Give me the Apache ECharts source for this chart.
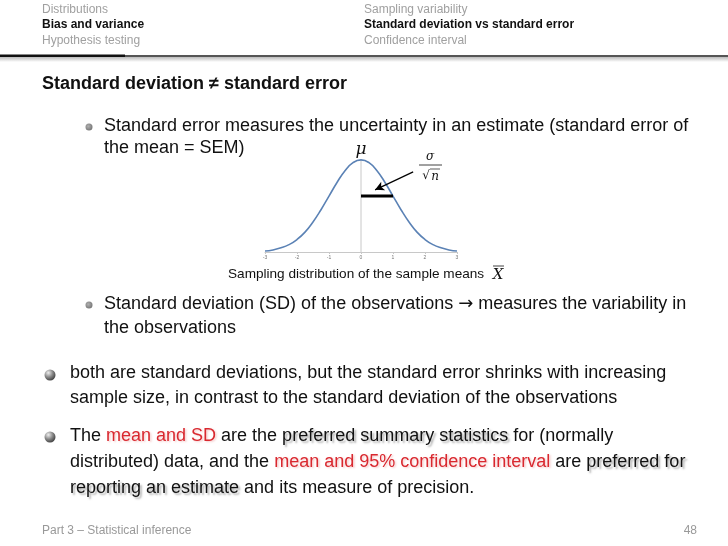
<!DOCTYPE html>
<html><head><meta charset="utf-8">
<script src="https://cdn.jsdelivr.net/npm/echarts@6/dist/echarts.min.js"></script>
<style>html,body{margin:0;padding:0;background:#fff}#c{width:728px;height:546px}</style>
</head><body><div id="c"></div>
<script>
// Values
const xValues = [-3,-2.75,-2.5,-2.25,-2,-1.75,-1.5,-1.25,-1,-0.75,-0.5,-0.25,0,0.25,0.5,0.75,1,1.25,1.5,1.75,2,2.25,2.5,2.75,3];
const density = [0.004,0.009,0.018,0.032,0.054,0.086,0.13,0.183,0.242,0.301,0.352,0.387,0.399,0.387,0.352,0.301,0.242,0.183,0.13,0.086,0.054,0.032,0.018,0.009,0.004];
const meanLine = [[0,0],[0,0.399]];
const seBar = [[0,0.242],[1,0.242]];
const arrowFrom = [1.63,0.347];
const arrowTo = [0.44,0.269];
const xTicks = [-3,-2,-1,0,1,2,3];

const FONT = '"Liberation Sans", Arial, sans-serif';
const MATH = '"DejaVu Serif", serif';
const BODY = 18;
const chart = echarts.init(document.getElementById('c'), null, {renderer:'canvas'});

function txt(x, y, text, size, color, weight, extra) {
  return Object.assign({type:'text', x:x, y:y, style:Object.assign({text:text, fontSize:size, fill:color||'#000', fontWeight:weight||'normal', fontFamily:FONT, verticalAlign:'middle'}, extra||{})});
}
function ball(cx, cy, r) {
  return {type:'circle', shape:{cx:cx, cy:cy, r:r}, style:{fill:{type:'radial', x:0.35, y:0.3, r:0.8, colorStops:[{offset:0,color:'#eeeeee'},{offset:0.5,color:'#888'},{offset:1,color:'#333'}]}}};
}
function dot(cx, cy, r) {
  return {type:'circle', shape:{cx:cx, cy:cy, r:r}, style:{fill:{type:'radial', x:0.4, y:0.4, r:0.7, colorStops:[{offset:0,color:'#b0b0b0'},{offset:1,color:'#707070'}]}}};
}
const shadow = {textShadowColor:'rgba(0,0,0,0.3)', textShadowBlur:2, textShadowOffsetX:2, textShadowOffsetY:2};
const redStyle = {fill:'#d9282f', fontSize:BODY, fontFamily:FONT, textShadowColor:'rgba(200,0,0,0.2)', textShadowBlur:2, textShadowOffsetX:1.5, textShadowOffsetY:1.5};
const darkShadow = Object.assign({fill:'#111', fontSize:BODY, fontFamily:FONT}, shadow);

const option = {
  animation:false,
  grid:{left:265, width:192, top:155, height:97},
  xAxis:{type:'value', min:-3, max:3, interval:1,
    axisLine:{lineStyle:{color:'#c8c8c8', width:1}},
    axisTick:{show:true, length:2, lineStyle:{color:'#c8c8c8'}},
    axisLabel:{fontSize:5, color:'#777', margin:3, formatter:function(v){return xTicks.indexOf(v)>=0?String(v):'';}},
    splitLine:{show:false}},
  yAxis:{type:'value', min:0, max:0.42, show:false},
  series:[
    {type:'line', data:meanLine, symbol:'none', lineStyle:{color:'#c8c8c8', width:1}, silent:true},
    {type:'line', data:xValues.map(function(x,i){return [x,density[i]];}), smooth:true, symbol:'none', lineStyle:{color:'#5b82b5', width:1.6},
      markLine:{silent:true, symbol:['none','arrow'], symbolSize:[7,9], label:{show:false},
        lineStyle:{color:'#000', width:1.2, type:'solid'},
        data:[[{coord:arrowFrom},{coord:arrowTo}]]}},
    {type:'line', data:seBar, symbol:'none', lineStyle:{color:'#000', width:3}}
  ],
  graphic:[
    // header
    txt(42,10,'Distributions',12,'#a0a0a0'),
    txt(42,25,'Bias and variance',12,'#111','bold'),
    txt(42,41,'Hypothesis testing',12,'#a0a0a0'),
    txt(364,10,'Sampling variability',12,'#a0a0a0'),
    txt(364,25,'Standard deviation vs standard error',12,'#111','bold'),
    txt(364,41,'Confidence interval',12,'#a0a0a0'),
    {type:'rect', shape:{x:0,y:57,width:728,height:5}, style:{fill:{type:'linear',x:0,y:0,x2:0,y2:1,colorStops:[{offset:0,color:'#bbb'},{offset:1,color:'#fff'}]}}},
    {type:'rect', shape:{x:0,y:55,width:728,height:2}, style:{fill:'#555'}},
    {type:'rect', shape:{x:0,y:54.5,width:125,height:2.5}, style:{fill:'#111'}},
    // title
    txt(42,84,'Standard deviation \u2260 standard error',18,'#111','bold'),
    // sub bullet 1
    dot(89,127,3.5),
    txt(104,126,'Standard error measures the uncertainty in an estimate (standard error of',BODY,'#111'),
    txt(104,148,'the mean = SEM)',BODY,'#111'),
    // math labels
    {type:'text', x:361, y:150, style:{text:'\u03bc', fontSize:17, fontStyle:'italic', fontFamily:MATH, fill:'#111', align:'center', verticalAlign:'middle'}},
    {type:'text', x:430, y:157, style:{text:'\u03c3', fontSize:12, fontStyle:'italic', fontFamily:MATH, fill:'#111', align:'center', verticalAlign:'middle'}},
    {type:'line', shape:{x1:419,y1:165,x2:442,y2:165}, style:{stroke:'#111', lineWidth:0.8}},
    {type:'text', x:426, y:176, style:{text:'\u221a', fontSize:12, fontFamily:MATH, fill:'#111', align:'center', verticalAlign:'middle'}},
    {type:'line', shape:{x1:430,y1:169,x2:440,y2:169}, style:{stroke:'#111', lineWidth:0.7}},
    {type:'text', x:435, y:177, style:{text:'n', fontSize:12, fontStyle:'italic', fontFamily:MATH, fill:'#111', align:'center', verticalAlign:'middle'}},
    // caption
    txt(228,274,'Sampling distribution of the sample means',13.6,'#111'),
    {type:'text', x:498, y:275, style:{text:'X', fontSize:15, fontStyle:'italic', fontFamily:MATH, fill:'#111', align:'center', verticalAlign:'middle'}},
    {type:'line', shape:{x1:493,y1:266,x2:504,y2:266}, style:{stroke:'#111', lineWidth:0.8}},
    // sub bullet 2
    dot(89,305,3.5),
    {type:'text', x:104, y:304, style:{text:'Standard deviation (SD) of the observations {a|\u2192} measures the variability in', fontSize:BODY, fontFamily:FONT, fill:'#111', verticalAlign:'middle',
      rich:{a:{fontSize:BODY, fontFamily:'"DejaVu Sans", sans-serif', fill:'#111'}}}},
    txt(104,328,'the observations',BODY,'#111'),
    // bullet 3
    ball(50,375,5.5),
    txt(70,373,'both are standard deviations, but the standard error shrinks with increasing',BODY,'#111'),
    txt(70,398,'sample size, in contrast to the standard deviation of the observations',BODY,'#111'),
    // bullet 4
    ball(50,437,5.5),
    {type:'text', x:70, y:436, style:{text:'The {r|mean and SD} are the {s|preferred summary statistics} for (normally', fontSize:BODY, fontFamily:FONT, fill:'#111', verticalAlign:'middle',
      rich:{r:redStyle, s:darkShadow}}},
    {type:'text', x:70, y:462, style:{text:'distributed) data, and the {r|mean and 95% confidence interval} are {s|preferred for}', fontSize:BODY, fontFamily:FONT, fill:'#111', verticalAlign:'middle',
      rich:{r:redStyle, s:darkShadow}}},
    {type:'text', x:70, y:488, style:{text:'{s|reporting an estimate} and its measure of precision.', fontSize:BODY, fontFamily:FONT, fill:'#111', verticalAlign:'middle',
      rich:{s:darkShadow}}},
    // footer
    txt(42,531,'Part 3 \u2013 Statistical inference',12,'#999'),
    {type:'text', x:697, y:531, style:{text:'48', fontSize:12, fontFamily:FONT, fill:'#999', align:'right', verticalAlign:'middle'}}
  ]
};
chart.setOption(option);
</script></body></html>
